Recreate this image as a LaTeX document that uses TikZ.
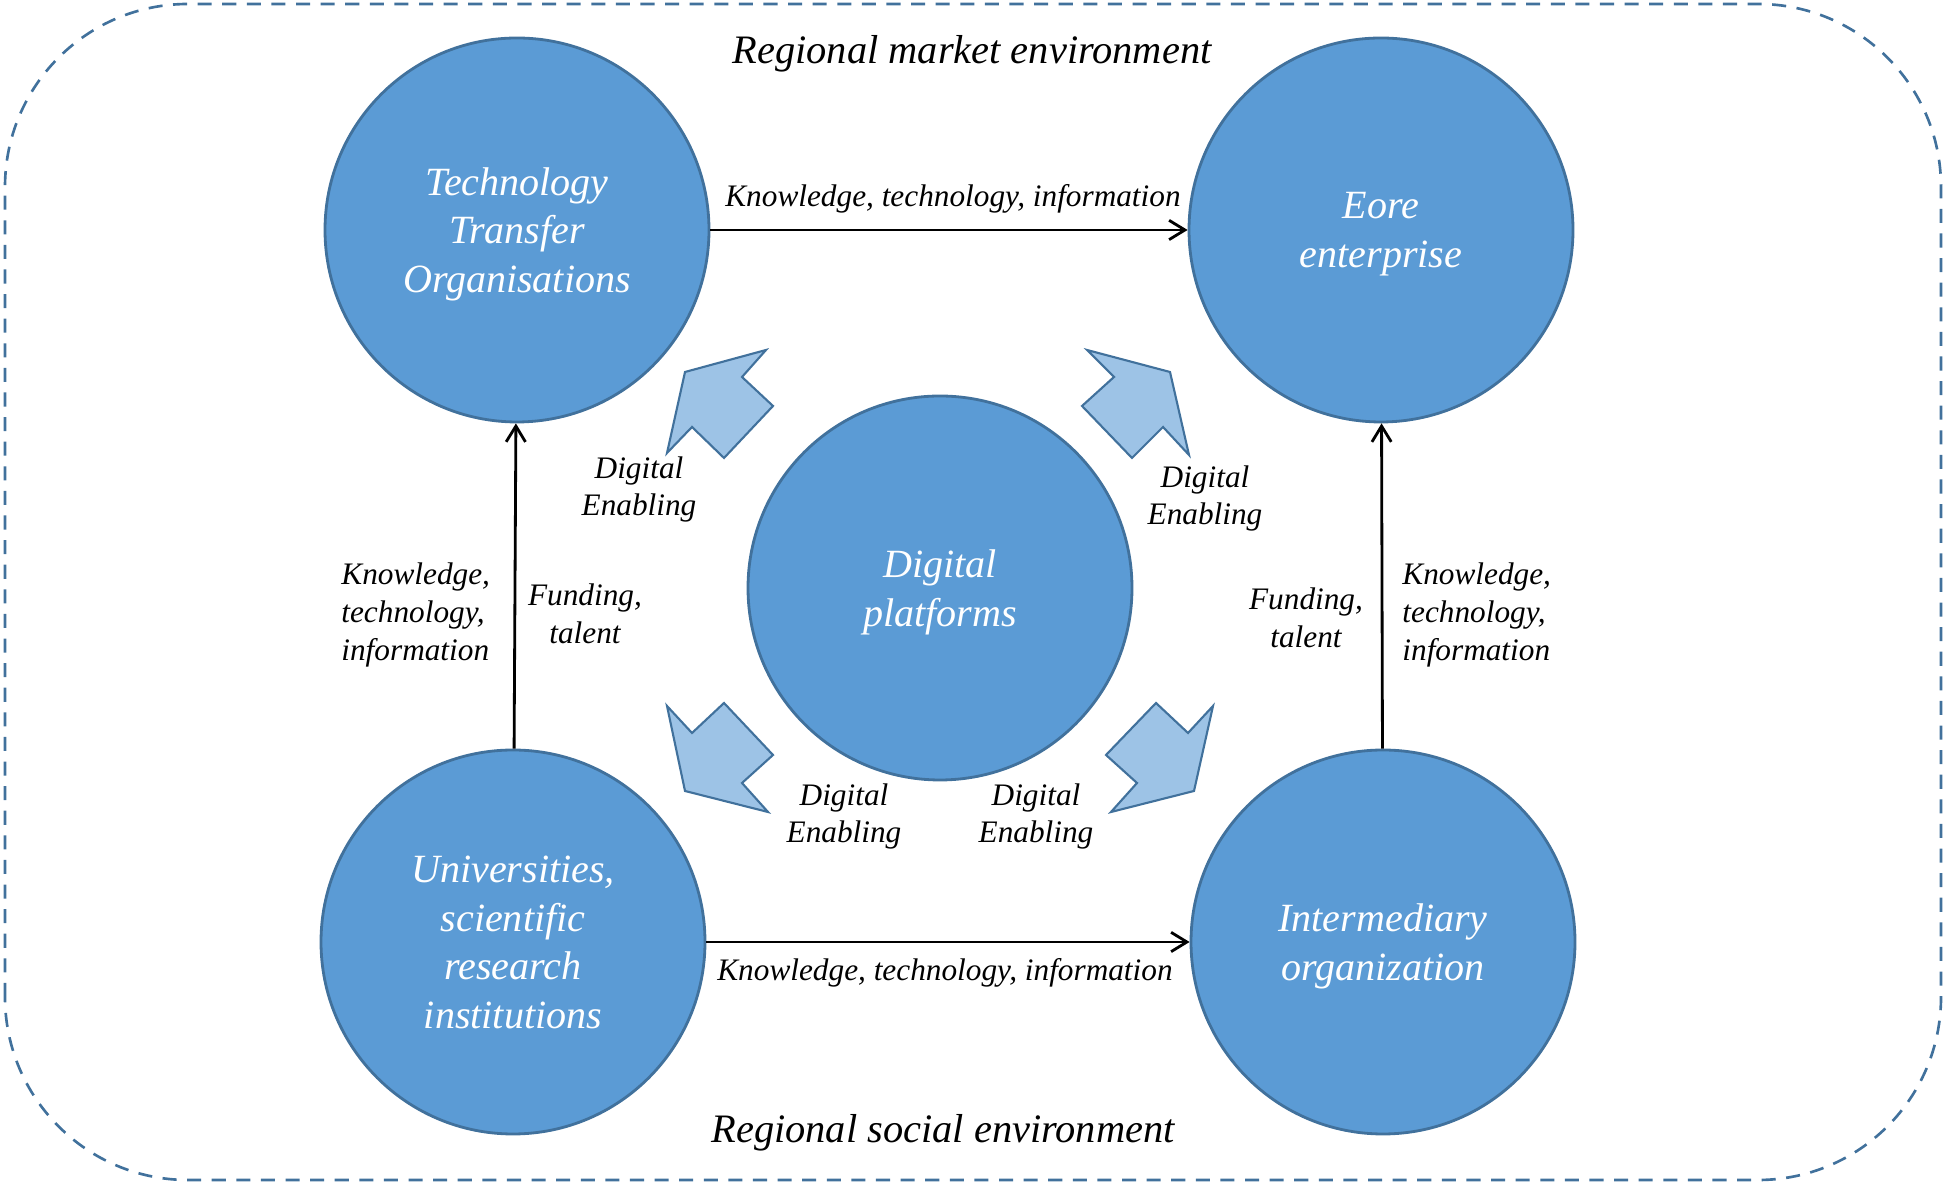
\documentclass[tikz,border=0pt]{standalone}
\usepackage{fontspec}
\setmainfont{Liberation Serif}
\usepackage{xcolor}
\usetikzlibrary{arrows.meta}

\definecolor{circfill}{HTML}{5B9BD5}
\definecolor{circline}{HTML}{41719C}
\definecolor{arrfill}{HTML}{9DC3E6}

\tikzset{digiarrow/.style={draw=circline,fill=arrfill,line width=0.6pt,line join=miter}}

\begin{document}
\begin{tikzpicture}[>={Straight Barb[length=4.5pt,width=5.5pt]}]
\useasboundingbox (0,0) rectangle (19.46,11.84);
\draw[circline, dash pattern=on 4pt off 3pt, line width=0.75pt, rounded corners=1.83cm] (0.05,0.04) rectangle (19.41,11.80);

\begin{scope}[every node/.style={circle,draw=circline,fill=circfill,text=white,line width=0.8pt,
             minimum size=3.84cm,inner sep=0pt,align=center,text depth=0pt,font=\fontsize{11.4}{13.8}\selectfont\itshape}]
   \node (tto) at (5.17,9.54) {Technology\\Transfer\\Organisations};
   \node (eore) at (13.81,9.54) {Eore\\enterprise};
   \node (plat) at (9.40,5.96) {Digital\\platforms};
   \node (univ) at (5.13,2.42) {Universities,\\scientific\\research\\institutions};
   \node (inter) at (13.83,2.42) {Intermediary\\organization};
\end{scope}

% digital enabling arrows
\draw[digiarrow] (6.85,8.12) -- (7.66,8.34) -- (7.42,8.07) -- (7.73,7.78) -- (7.24,7.26) -- (6.92,7.57) -- (6.67,7.31) -- cycle;
\draw[digiarrow] (10.87,8.34) -- (11.70,8.12) -- (11.89,7.29) -- (11.63,7.57) -- (11.32,7.26) -- (10.82,7.78) -- (11.14,8.07) -- cycle;
\draw[digiarrow] (6.67,4.78) -- (6.92,4.51) -- (7.24,4.81) -- (7.73,4.29) -- (7.42,4.01) -- (7.68,3.72) -- (6.85,3.93) -- cycle;
\draw[digiarrow] (11.56,4.81) -- (11.88,4.51) -- (12.13,4.78) -- (11.94,3.93) -- (11.11,3.72) -- (11.37,4.01) -- (11.06,4.29) -- cycle;

\begin{scope}[every edge/.style={draw,line width=0.8pt},
             every node/.style={inner sep=0pt,align=left,font=\fontsize{8.9}{10.7}\selectfont\itshape}]

   \path [->] (tto) edge node[anchor=base, xshift=0.04cm, yshift=0.23cm] (kti1) {Knowledge, technology, information} (eore);
   \path [->] (univ) edge node[anchor=base, xshift=-0.03cm, yshift=-0.385cm] (kti2) {Knowledge, technology, information} (inter);

   \path [->] (univ) edge node[anchor=west, xshift=-1.75cm, yshift=-0.29cm] (kti3) {Knowledge,\\technology,\\information}
                          node[align=center, xshift=0.70cm, yshift=-0.28cm] (fund1) {Funding,\\talent} (tto);
   \path [->] (inter) edge node[anchor=west, xshift=0.19cm, yshift=-0.29cm] (kti4) {Knowledge,\\technology,\\information}
                          node[align=center, xshift=-0.76cm, yshift=-0.32cm] (fund2) {Funding,\\talent} (eore);

   \node[align=center] (de1) at (6.39,6.945) {Digital\\Enabling};
   \node[align=center] (de2) at (12.05,6.855) {Digital\\Enabling};
   \node[align=center] (de3) at (8.44,3.675) {Digital\\Enabling};
   \node[align=center] (de4) at (10.36,3.675) {Digital\\Enabling};

   \node[anchor=base, font=\fontsize{11.5}{13.8}\selectfont\itshape] (mkt) at (9.72,11.20) {Regional market environment};
   \node[anchor=base, font=\fontsize{11.5}{13.8}\selectfont\itshape] (soc) at (9.43,0.41) {Regional social environment};
\end{scope}
\end{tikzpicture}
\end{document}
